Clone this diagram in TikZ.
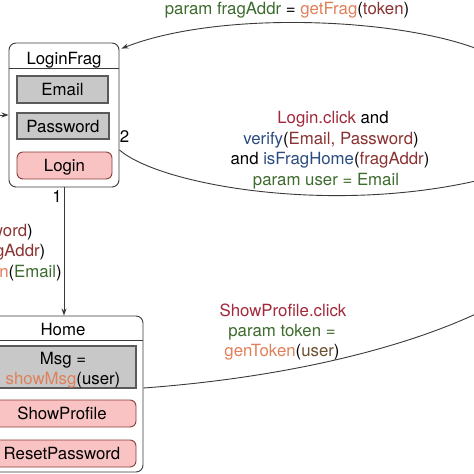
\documentclass[tikz,border=0pt]{standalone}
\usepackage{fontspec}
\setmainfont{TeX Gyre Heros}
\usetikzlibrary{arrows.meta}
\definecolor{crim}{HTML}{A3283C}
\definecolor{grn}{HTML}{3E6B2E}
\definecolor{org}{HTML}{E0805A}
\definecolor{brn}{HTML}{8B3232}
\definecolor{blu}{HTML}{2B4C80}
\definecolor{olv}{HTML}{6B5030}
\definecolor{fieldgray}{HTML}{C8C8C8}
\definecolor{fieldline}{HTML}{5A5A5A}
\definecolor{pinkfill}{HTML}{F9C3C3}
\definecolor{pinkline}{HTML}{8A3A3A}
\definecolor{edgecol}{HTML}{3A3A3A}
\begin{document}
\begin{tikzpicture}[x=1pt,y=-1pt,
  every node/.style={font=\fontsize{16.8}{20.5}\selectfont, inner sep=0pt},
  frame/.style={draw=edgecol, line width=0.9pt, rounded corners=7pt},
  field/.style={draw=fieldline, fill=fieldgray, line width=1.1pt, text height=12pt, text depth=0pt},
  btn/.style={draw=pinkline, fill=pinkfill, line width=0.9pt, rounded corners=6pt, text height=12pt, text depth=0pt},
  txt/.style={anchor=base},
  txtr/.style={anchor=base east},
  conn/.style={draw=edgecol, line width=0.9pt},
  tip/.style={-{Stealth[length=7pt,width=5pt]}}
]
\useasboundingbox (0,0) rectangle (474,474);
\clip (0,0) rectangle (474,474);
\fill[white] (0,0) rectangle (474,474);

% LoginFrag
\node[frame, minimum width=110pt, minimum height=144pt] (lf) at (64,115) {};
\node[txt] (lftitle) at (64,64) {LoginFrag};
\coordinate (lfsep) at (0,68);
\draw[conn] (lf.west |- lfsep) -- (lf.east |- lfsep);
\node[field, minimum width=91pt, minimum height=27pt] (email) at (62.5,89.5) {Email};
\node[field, minimum width=92pt, minimum height=26pt] (pwd) at (63,126) {Password};
\node[btn, minimum width=95pt, minimum height=27pt] (login) at (64.5,165.5) {Login};

% Home
\node[frame, minimum width=162pt, minimum height=156pt] (home) at (62,394) {};
\node[txt] (hometitle) at (63,335) {Home};
\coordinate (homesep) at (0,340);
\draw[conn] (home.west |- homesep) -- (home.east |- homesep);
\node[field, minimum width=148pt, minimum height=42pt] (msg) at (62,367) {};
\node[txt] (msga) at (63,364) {Msg =};
\node[txt] (msgb) at (63,384) {\textcolor{org}{showMsg}(user)};
\node[btn, minimum width=148pt, minimum height=27pt] (sp) at (62,413.5) {ShowProfile};
\node[btn, minimum width=148pt, minimum height=27pt] (rp) at (62,453.5) {ResetPassword};

% connectors
\coordinate (inL) at (-30,115);
\draw[conn,tip] (inL) -- (lf.west |- inL);
\draw[conn,tip] (lf.south) -- (lf.south |- home.north);
\node[txt] (one) at (57,202) {1};
\node[txt] (two) at (124.5,142) {2};

\coordinate (topR) at (480,50);
\draw[conn,tip] (topR) .. controls (400,18) and (220,10) .. ([xshift=2pt,yshift=-6pt]lf.north east);
\coordinate (midR) at (480,180);
\draw[conn] ([yshift=-35pt]lf.east) .. controls (160,185) and (330,215) .. (midR);
\coordinate (lowR) at (480,312);
\draw[conn] ([yshift=6pt]home.east) .. controls (280,378) and (400,350) .. (lowR);

% labels
\node[txt] (labtop) at (287,14) {\textcolor{grn}{param fragAddr} = \textcolor{org}{getFrag}(\textcolor{brn}{token})};
\node[txt] (lab2a) at (333,123) {\textcolor{crim}{Login.click} and};
\node[txt] (lab2b) at (331,144) {\textcolor{blu}{verify}(\textcolor{brn}{Email, Password})};
\node[txt] (lab2c) at (330,164) {and \textcolor{blu}{isFragHome}(\textcolor{brn}{fragAddr})};
\node[txt] (lab2d) at (326,185) {\textcolor{grn}{param user = Email}};

\node[txt] (lab3a) at (283,316) {\textcolor{crim}{ShowProfile.click}};
\node[txt] (lab3b) at (282,336) {\textcolor{grn}{param token =}};
\node[txt] (lab3c) at (282,356) {\textcolor{org}{genToken}(\textcolor{olv}{user})};

\node[txtr] (labla) at (33,236) {\textcolor{blu}{verify}(\textcolor{brn}{Email, Password})};
\node[txtr] (lablb) at (45.5,256.5) {and \textcolor{blu}{isFragHome}(\textcolor{brn}{fragAddr})};
\node[txtr] (lablc) at (62,277) {\textcolor{grn}{param user =} \textcolor{org}{genToken}(\textcolor{grn}{Email})};
\end{tikzpicture}
\end{document}
